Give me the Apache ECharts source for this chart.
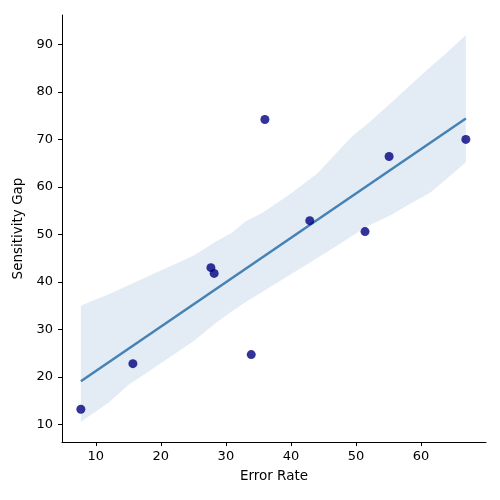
<!DOCTYPE html>
<html>
<head>
<meta charset="utf-8">
<script src="https://cdn.jsdelivr.net/npm/echarts@6/dist/echarts.min.js"></script>
<style>
html, body { margin: 0; padding: 0; background: #fff; }
#main { width: 500px; height: 500px; }
</style>
</head>
<body>
<div id="main"></div>
<script>
// scatter points
var errorRate = [7.7, 15.7, 27.7, 28.2, 33.9, 36.0, 42.9, 51.4, 55.1, 66.9];
var sensGap = [13.2, 22.8, 43.0, 41.8, 24.7, 74.2, 52.9, 50.6, 66.4, 70.0];

// fitted line end points
var fitX = [7.7, 66.9];
var fitY = [19.1, 74.4];

// confidence band edges
var bandX = [7.7, 10, 12, 15, 20, 25, 28.6, 31, 33, 35.7, 40, 44, 47.5, 49.5, 52, 55.7, 58, 61.4, 64, 66.9];
var bandLow = [10.5, 12.7, 14.6, 18.3, 22.9, 27.5, 31.5, 33.9, 35.7, 38.0, 41.6, 45.0, 48.0, 49.8, 51.9, 54.3, 56.2, 58.8, 61.8, 65.2];
var bandHigh = [35.0, 36.3, 37.4, 39.3, 42.4, 45.5, 48.6, 50.4, 52.7, 54.6, 58.6, 62.8, 67.9, 70.8, 73.5, 78.1, 81.0, 85.2, 88.3, 92.0];

var xTicks = [10, 20, 30, 40, 50, 60];
var yTicks = [10, 20, 30, 40, 50, 60, 70, 80, 90];

var font = 'DejaVu Sans';

var points = errorRate.map(function (x, i) { return [x, sensGap[i]]; });
var fitLine = fitX.map(function (x, i) { return [x, fitY[i]]; });
var bandRows = bandX.map(function (x, i) { return [x, bandLow[i], bandHigh[i]]; });

var myChart = echarts.init(document.getElementById('main'));

myChart.setOption({
	animation: false,
	backgroundColor: '#fff',
	grid: { left: 62, right: 14, top: 15, bottom: 58 },
	xAxis: {
		type: 'value',
		min: 4.8,
		max: 70,
		name: 'Error Rate',
		nameLocation: 'middle',
		nameGap: 27,
		nameTextStyle: { color: '#000', fontFamily: font, fontSize: 13.5 },
		axisLine: { show: true, onZero: false, lineStyle: { color: '#000', width: 1 } },
		axisTick: { show: true, length: 4, customValues: xTicks, lineStyle: { color: '#000' } },
		axisLabel: { customValues: xTicks, margin: 8, color: '#000', fontFamily: font, fontSize: 13 },
		splitLine: { show: false }
	},
	yAxis: {
		type: 'value',
		min: 6.3,
		max: 96.2,
		name: 'Sensitivity Gap',
		nameLocation: 'middle',
		nameGap: 33,
		nameTextStyle: { color: '#000', fontFamily: font, fontSize: 13.5 },
		axisLine: { show: true, onZero: false, lineStyle: { color: '#000', width: 1 } },
		axisTick: { show: true, length: 4, customValues: yTicks, lineStyle: { color: '#000' } },
		axisLabel: { customValues: yTicks, margin: 9, color: '#000', fontFamily: font, fontSize: 13 },
		splitLine: { show: false }
	},
	series: [
		{
			// shaded band drawn as one polygon through the axis scales
			type: 'custom',
			z: 1,
			data: bandRows,
			encode: { x: 0, y: [1, 2] },
			renderItem: function (params, api) {
				if (params.dataIndex !== 0) return null;
				var pts = [];
				for (var i = 0; i < bandRows.length; i++) {
					pts.push(api.coord([bandRows[i][0], bandRows[i][2]]));
				}
				for (var j = bandRows.length - 1; j >= 0; j--) {
					pts.push(api.coord([bandRows[j][0], bandRows[j][1]]));
				}
				return {
					type: 'polygon',
					shape: { points: pts },
					style: { fill: 'rgba(70,130,180,0.15)' }
				};
			}
		},
		{
			type: 'line',
			z: 3,
			data: fitLine,
			showSymbol: false,
			lineStyle: { color: 'rgb(70,130,180)', width: 2.5 }
		},
		{
			type: 'scatter',
			z: 4,
			data: points,
			symbolSize: 9,
			itemStyle: { color: 'rgba(0,0,128,0.8)', opacity: 1 }
		}
	]
});
</script>
</body>
</html>
